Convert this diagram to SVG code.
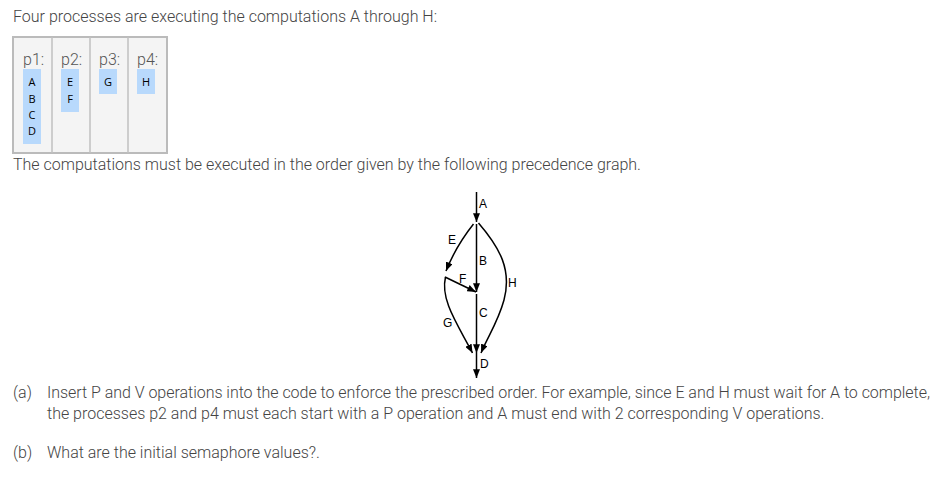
<svg xmlns="http://www.w3.org/2000/svg" width="942" height="480" viewBox="0 0 942 480">
<style>
.t{font-family:Roboto,"Liberation Sans",sans-serif;font-weight:300;font-size:16px;fill:#444}
.h{font-family:Roboto,"Liberation Sans",sans-serif;font-weight:300;font-size:16px;fill:#555}
.c{font-family:"Open Sans","Noto Sans",sans-serif;font-size:11px;fill:#000;text-anchor:middle}
.hl{fill:#b8d9fc}
.col{stroke:#c0c0c0;stroke-width:1.5}
.e{fill:none;stroke:#000;stroke-width:1.5}
.l{font-family:"Liberation Sans",Arial,sans-serif;font-size:12px;fill:#000}
</style>
<defs>
<marker id="ah" viewBox="0 0 10 8" refX="10" refY="4" markerWidth="9" markerHeight="7" markerUnits="userSpaceOnUse" orient="auto">
<path d="M0,0 L10,4 L0,8 Z" fill="#000"/>
</marker>
</defs>
<rect width="942" height="480" fill="#fff"/>
<text class="t" x="13" y="22">Four processes are executing the computations A through H:</text>
<g id="table">
<rect x="13" y="37" width="154" height="116" fill="#f4f4f4" stroke="#bbb" stroke-width="2"/>
<line class="col" x1="52" y1="37" x2="52" y2="153"/>
<line class="col" x1="90" y1="37" x2="90" y2="153"/>
<line class="col" x1="128" y1="37" x2="128" y2="153"/>
</g>
<g id="p1">
<text class="h" x="23" y="65">p1:</text>
<rect class="hl" x="23" y="69" width="18" height="75"/>
<text class="c" x="32" y="86">A</text>
<text class="c" x="32" y="103">B</text>
<text class="c" x="32" y="119">C</text>
<text class="c" x="32" y="135">D</text>
</g>
<g id="p2">
<text class="h" x="61" y="65">p2:</text>
<rect class="hl" x="61" y="69" width="18" height="43"/>
<text class="c" x="70" y="86">E</text>
<text class="c" x="70" y="103">F</text>
</g>
<g id="p3">
<text class="h" x="99" y="65">p3:</text>
<rect class="hl" x="99" y="69" width="18" height="25"/>
<text class="c" x="108" y="86">G</text>
</g>
<g id="p4">
<text class="h" x="137" y="65">p4:</text>
<rect class="hl" x="137" y="69" width="18" height="25"/>
<text class="c" x="146" y="86">H</text>
</g>
<text class="t" x="13" y="170">The computations must be executed in the order given by the following precedence graph.</text>
<g id="connectors">
<line id="A" class="e" x1="476.5" y1="192" x2="476.5" y2="222" marker-end="url(#ah)"/>
<line id="B" class="e" x1="476.5" y1="224" x2="476.5" y2="292" marker-end="url(#ah)"/>
<line id="C" class="e" x1="476.5" y1="294" x2="476.5" y2="353" marker-end="url(#ah)"/>
<line id="D" class="e" x1="476.5" y1="353" x2="476.5" y2="378" marker-end="url(#ah)"/>
<path id="E" class="e" d="M473.5,224 Q456,246 446,271" marker-end="url(#ah)"/>
<path id="F" class="e" d="M445,277 L476,292" marker-end="url(#ah)"/>
<path id="G" class="e" d="M445.5,277 C440,300 458,325 472.5,353" marker-end="url(#ah)"/>
<path id="H" class="e" d="M478.5,223 C500,248 512,270 504,300 C498,322 488,336 481,353" marker-end="url(#ah)"/>
</g>
<g id="labels">
<text class="l" x="479" y="208">A</text>
<text class="l" x="448" y="244">E</text>
<text class="l" x="479" y="265">B</text>
<text class="l" x="459" y="283">F</text>
<text class="l" x="508" y="287">H</text>
<text class="l" x="479" y="317">C</text>
<text class="l" x="443" y="327">G</text>
<text class="l" x="480" y="368">D</text>
</g>
<text class="t" x="13" y="398">(a)</text>
<text class="t" x="47" y="398" textLength="883" lengthAdjust="spacing">Insert P and V operations into the code to enforce the prescribed order. For example, since E and H must wait for A to complete,</text>
<text class="t" x="47" y="419">the processes p2 and p4 must each start with a P operation and A must end with 2 corresponding V operations.</text>
<text class="t" x="13" y="458">(b)</text>
<text class="t" x="47" y="458">What are the initial semaphore values?.</text>
</svg>
